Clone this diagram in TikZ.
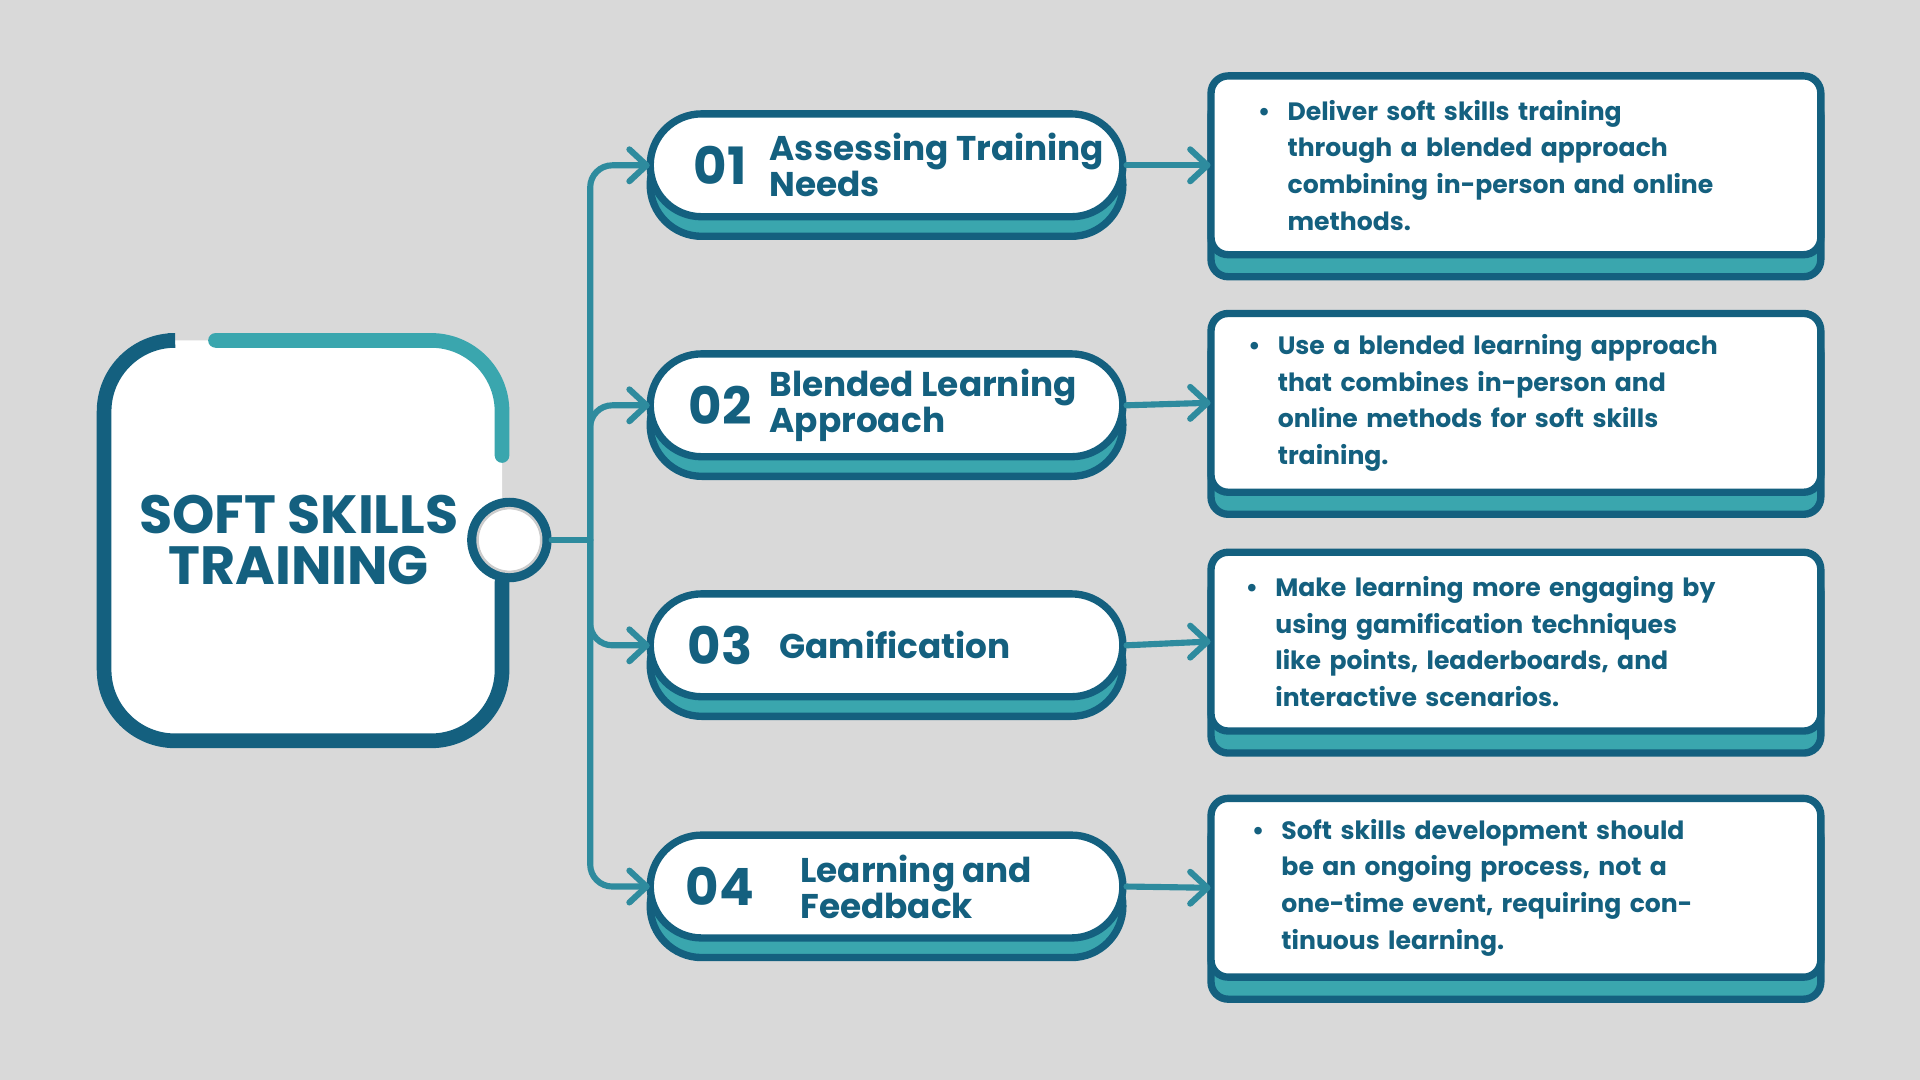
\documentclass[tikz,border=0pt]{standalone}
\usepackage{fontspec}
\setmainfont{Poppins}
\usetikzlibrary{positioning}
\definecolor{darkblue}{HTML}{14607F}
\definecolor{tealc}{HTML}{3AA6AE}
\definecolor{linkc}{HTML}{2E8B9E}
\definecolor{bgc}{HTML}{D9D9D9}
\tikzset{
  pill/.style={draw=darkblue, line width=6pt, fill=white, rounded corners=42pt, minimum width=386pt, minimum height=84pt, inner sep=0pt},
  pillshadow/.style={draw=darkblue, line width=6pt, fill=tealc, rounded corners=42pt, minimum width=386pt, minimum height=84pt, inner sep=0pt},
  infobox/.style={draw=darkblue, line width=6pt, fill=white, rounded corners=14pt, minimum width=498pt, minimum height=146pt, inner sep=0pt},
  infoshadow/.style={draw=darkblue, line width=6pt, fill=tealc, rounded corners=14pt, minimum width=498pt, minimum height=146pt, inner sep=0pt},
  numtext/.style={text=darkblue, font=\fontsize{42}{42}\selectfont\bfseries},
  labeltext/.style={text=darkblue, font=\fontsize{28}{26}\selectfont\bfseries, align=left, anchor=west},
  bullettext/.style={text=darkblue, font=\fontsize{20.5}{30}\selectfont\bfseries, align=left, anchor=west, text width=360pt},
  link/.style={draw=linkc, line width=5pt, line cap=round, rounded corners=18pt},
  tip/.style={draw=linkc, line width=5pt, line cap=round, line join=round}
}
\newcommand{\dotmark}{\llap{\textbullet\hspace{14pt}}}
\begin{document}
\begin{tikzpicture}[x=1pt, y=-1pt]
\fill[bgc] (0,0) rectangle (1568,882);
\useasboundingbox (0,0) rectangle (1568,882);

% Main box
\fill[white, rounded corners=58pt] (85,278) rectangle (410,605);
\draw[darkblue, line width=12pt, line cap=round, rounded corners=58pt] (138,278) -- (85,278) -- (85,605) -- (410,605) -- (410,475);
\draw[tealc, line width=12pt, line cap=round, rounded corners=58pt] (176,278) -- (410,278) -- (410,372);
\node[text=darkblue, font=\fontsize{44}{44}\selectfont\bfseries, align=center] (title) at (244,441) {SOFT SKILLS\\[-2pt]TRAINING};

% Hub circle
\node[circle, draw=darkblue, line width=9pt, fill=white, minimum size=60pt, inner sep=0pt] (hub) at (416,441) {};
\draw[gray!40, line width=2pt] (hub.center) circle (26);

% Trunk
\coordinate (split) at (482,441);
\draw[link] (hub.east) -- (split);

% Steps
\foreach \i/\y/\num/\lbl/\lx in {1/135/01/{Assessing Training\\Needs}/625,
                           2/331/02/{Blended Learning\\Approach}/625,
                           3/527/03/{Gamification}/633,
                           4/724/04/{Learning and\\Feedback}/650}{
  \node[pillshadow] (pillsh\i) at (724,\y+16) {};
  \node[pill] (pill\i) at (724,\y) {};
  \node[numtext] (num\i) at (588,\y) {\num};
  \node[labeltext] (lbl\i) at (\lx,\y) {\lbl};
  \draw[link] (split) -- (482,\y) -- (pill\i.west);
  \draw[tip] ([shift={(-14,-13)}]pill\i.west) -- (pill\i.west) -- ([shift={(-14,13)}]pill\i.west);
}

% Info boxes
\foreach \i/\y/\bx/\txt in {1/135/1048/{Deliver soft skills training through a blended approach combining in-person and online methods.},
                     2/329/1040/{Use a blended learning approach that combines in-person and online methods for soft skills training.},
                     3/524/1038/{Make learning more engaging by using gamification techniques like points, leaderboards, and interactive scenarios.},
                     4/725/1043/{Soft skills development should be an ongoing process, not a one-time event, requiring continuous learning.}}{
  \node[infoshadow] (boxsh\i) at (1238,\y+18) {};
  \node[infobox] (box\i) at (1238,\y) {};
  \node[bullettext] (txt\i) at (\bx,\y) {\dotmark\txt};
  \draw[link] (pill\i.east) -- (box\i.west);
  \draw[tip] ([shift={(-14,-13)}]box\i.west) -- (box\i.west) -- ([shift={(-14,13)}]box\i.west);
}
\end{tikzpicture}
\end{document}
